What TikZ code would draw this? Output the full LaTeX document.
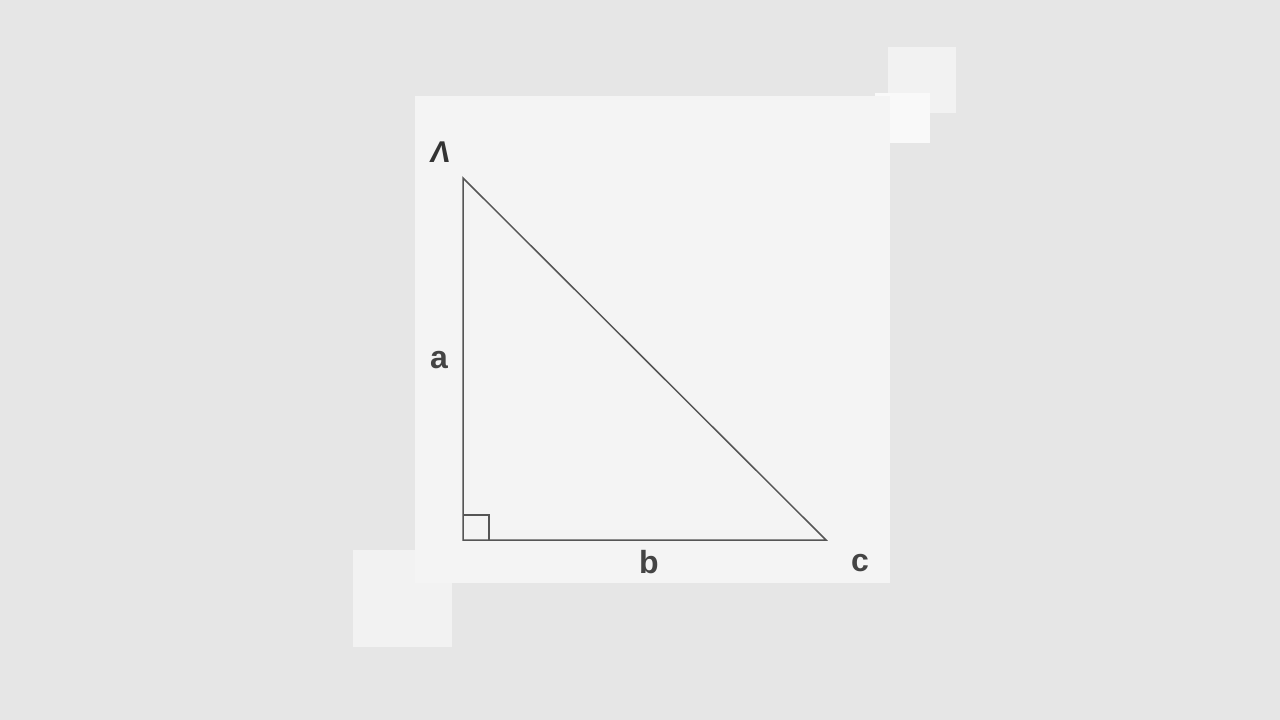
\documentclass[tikz,border=0pt]{standalone}
\usepackage{fontspec}
\setmainfont{Liberation Sans}
\newfontfamily\slantfont[FakeSlant=0.15]{Liberation Sans Bold}
\definecolor{bgc}{HTML}{E6E6E6}
\definecolor{panelc}{HTML}{F4F4F4}
\definecolor{artc}{HTML}{F2F2F2}
\definecolor{linec}{HTML}{555555}
\definecolor{labc}{HTML}{444444}
\tikzset{
  tri/.style={draw=linec, line width=1.5pt, line join=miter},
  lab/.style={text=labc, font=\fontsize{32}{32}\selectfont\bfseries, inner sep=0pt},
}
\begin{document}
\begin{tikzpicture}[x=1pt,y=-1pt]
\useasboundingbox (0,0) rectangle (1280,720);
\fill[bgc] (0,0) rectangle (1280,720);
% faint artifact squares
\fill[artc] (888,47) rectangle (956,113);
\fill[panelc!50!white] (875,93) rectangle (930,143);
\fill[artc] (353,550) rectangle (452,647);
% panel
\fill[panelc] (415,96) rectangle (890,583);
% triangle
\coordinate (B) at (463,540);
\coordinate (A) at (463,178);
\coordinate (C) at (826,540);
\draw[tri] (A) -- (B) -- (C) -- cycle;
\coordinate (R1) at (463,515);
\coordinate (R2) at (489,515);
\coordinate (R3) at (489,540);
\draw[tri] (R1) -- (R2) -- (R3);
% labels
\node[lab] (la) at (439,360) {a};
\node[lab] (lb) at (649,562) {b};
\node[lab] (lc) at (860,563) {c};
\node[lab, text=black!80, font=\fontsize{30}{30}\slantfont] (lA) at (439,152) {Λ};
\end{tikzpicture}
\end{document}
